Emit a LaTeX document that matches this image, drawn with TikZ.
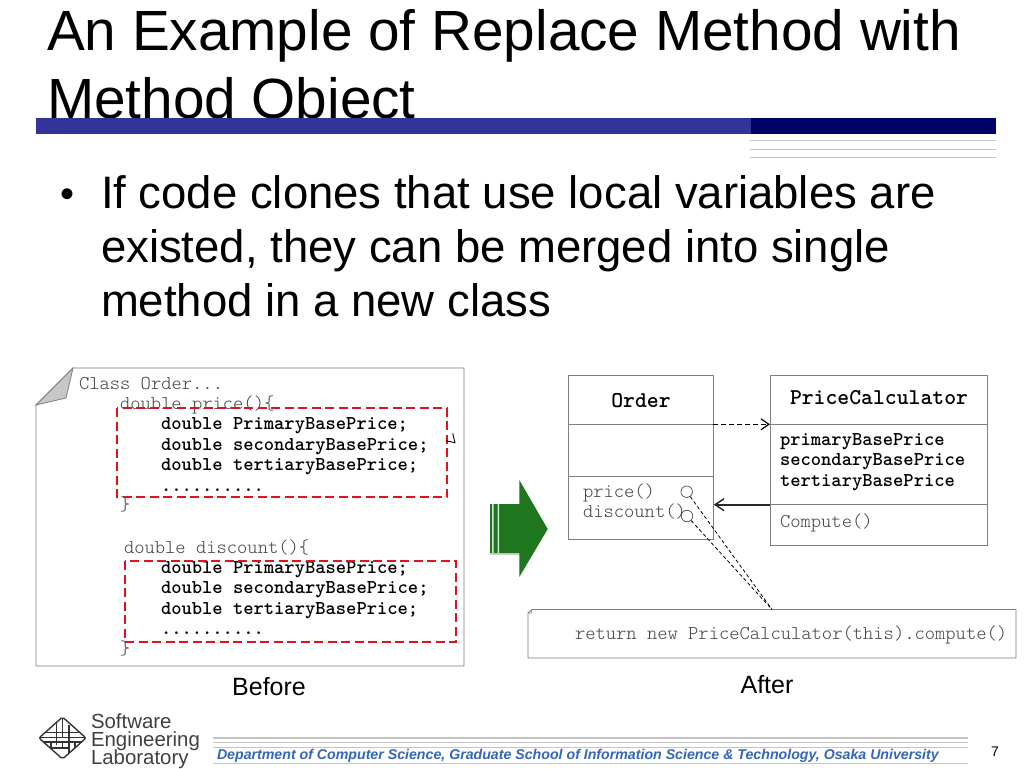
\documentclass[tikz,border=0pt]{standalone}
\usepackage{fontspec}
\setmainfont{Liberation Sans}
\setmonofont{Latin Modern Mono Light}
\usetikzlibrary{arrows.meta}
\definecolor{barblue}{HTML}{333399}
\definecolor{bardark}{HTML}{000066}
\definecolor{rulegray}{HTML}{C4C4C4}
\definecolor{codegray}{HTML}{444444}
\definecolor{boxgray}{HTML}{7F7F7F}
\definecolor{foot}{HTML}{3366BB}
\definecolor{arrowgreen}{HTML}{1E761E}
\definecolor{reddash}{HTML}{E4101C}
\tikzset{
 lbl/.style={anchor=base west,inner sep=0pt,outer sep=0pt},
 titletext/.style={lbl,font=\fontsize{56.7}{70}\selectfont},
 bodytext/.style={lbl,font=\fontsize{45.5}{54}\selectfont},
 code/.style={lbl,font=\fontsize{19.6}{22}\ttfamily,text=codegray},
 bcode/.style={lbl,font=\fontsize{19.6}{22}\ttfamily\bfseries,text=black},
 hcode/.style={lbl,font=\fontsize{22.6}{24}\ttfamily\bfseries,text=black},
 caption/.style={anchor=base,inner sep=0pt,font=\fontsize{25}{30}\selectfont},
 umlbox/.style={draw=boxgray,line width=0.9pt,fill=white},
 redbox/.style={draw=reddash,line width=2.2pt,dash pattern=on 9pt off 4.5pt},
 notedash/.style={black,line width=0.8pt,dash pattern=on 3.5pt off 2.5pt},
 logotext/.style={lbl,font=\fontsize{20.4}{24}\selectfont,text=black!75},
 opening/.style={circle,draw=black!70,line width=0.7pt,minimum size=11.5pt,inner sep=0pt},
}
\begin{document}
\begin{tikzpicture}[x=1pt,y=-1pt]
\useasboundingbox (0,0) rectangle (1024,768);
\fill[white] (0,0) rectangle (1024,768);
% title
\node[titletext] (t1) at (47,50) {An Example of Replace Method with};
\node[titletext] (t2) at (47,118) {Method Object};
\fill[barblue] (36,118) rectangle (751,134);
\fill[bardark] (751,118) rectangle (996,134);
\foreach \yy in {140.5,149,157} \draw[rulegray,line width=1pt] (750,\yy) -- (996,\yy);
% body
\node[lbl,font=\fontsize{40}{54}\selectfont] (bu) at (60,207) {•};
\node[bodytext] (b1) at (101,208) {If code clones that use local variables are};
\node[bodytext] (b2) at (101,262) {existed, they can be merged into single};
\node[bodytext] (b3) at (101,316) {method in a new class};
% before page
\draw[umlbox] (73,368) -- (464,368) -- (464,666) -- (36,666) -- (36,405) -- cycle;
\filldraw[draw=boxgray,fill=black!22,line width=0.8pt] (73,368) -- (66,398) -- (36,405) -- cycle;
\node[code] (c1) at (79,389) {Class Order...};
\node[code] (c2) at (120,409) {double price()\{};
\node[bcode] (c3) at (161,429.5) {double PrimaryBasePrice;};
\node[bcode] (c4) at (161,450) {double secondaryBasePrice;};
\node[bcode] (c5) at (161,470.5) {double tertiaryBasePrice;};
\node[bcode] (c6) at (161,491) {..........};
\node[code] (c7) at (120,510) {\}};
\node[code] (d2) at (124,553) {double discount()\{};
\node[bcode] (d3) at (161,573) {double PrimaryBasePrice;};
\node[bcode] (d4) at (161,593.5) {double secondaryBasePrice;};
\node[bcode] (d5) at (161,614) {double tertiaryBasePrice;};
\node[bcode] (d6) at (161,634.5) {..........};
\node[code] (d7) at (120,654) {\}};
\draw[redbox] (117,408) rectangle (447,497);
\draw[redbox] (125,561) rectangle (456,642);
\draw[black,line width=0.9pt] (452.7,433.3) -- (455,442.7) -- (445.7,440.7);
\node[caption] (before) at (269,695) {Before};
\node[caption] (after) at (767,693) {After};
% green arrow
\fill[black!18] (490,506) rectangle (520,555);
\fill[arrowgreen] (490,504) -- (519.3,504) -- (519.3,480) -- (547.7,529) -- (519.3,577) -- (519.3,553) -- (490,553) -- cycle;
\fill[white!80!arrowgreen] (492,504) rectangle (493.7,553) (497.7,504) rectangle (499,553);
% Order
\draw[umlbox] (568.3,375.7) rectangle (713.3,539.3);
\coordinate (od1a) at (568.3,424.3); \coordinate (od1b) at (713.3,424.3);
\coordinate (od2a) at (568.3,476.3); \coordinate (od2b) at (713.3,476.3);
\draw[boxgray,line width=0.9pt] (od1a) -- (od1b) (od2a) -- (od2b);
\node[hcode,anchor=base] (order) at (641,407) {Order};
\node[code] (m1) at (583,497) {price()};
\node[code] (m2) at (583,517.5) {discount()};
% PriceCalculator
\draw[umlbox] (770,375.7) rectangle (987.7,545.3);
\coordinate (pd1a) at (770,424.3); \coordinate (pd1b) at (987.7,424.3);
\coordinate (pd2a) at (770,504.7); \coordinate (pd2b) at (987.7,504.7);
\draw[boxgray,line width=0.9pt] (pd1a) -- (pd1b) (pd2a) -- (pd2b);
\node[hcode] (pc) at (790,404) {PriceCalculator};
\node[bcode] (a1) at (780,445) {primaryBasePrice};
\node[bcode] (a2) at (780,465.5) {secondaryBasePrice};
\node[bcode] (a3) at (780,486) {tertiaryBasePrice};
\node[code] (comp) at (780,527) {Compute()};
% note
\draw[umlbox] (528,613) -- (532,609.5) -- (1016,609.5) -- (1016,658) -- (528,658) -- cycle;
\draw[boxgray,line width=0.6pt] (532,609.5) -- (531.5,613) -- (528,613);
\node[code] (ret) at (575,639) {return new PriceCalculator(this).compute()};
% connectors
\coordinate (noteTip) at (772,609.5);
\draw[black,line width=1.3pt,dash pattern=on 5pt off 3pt,-{Straight Barb[length=8pt,width=11pt,line width=1.2pt]}] (od1b) -- (pd1a);
\draw[black!85,line width=1.8pt,-{Straight Barb[length=9pt,width=12pt,line width=1.4pt]}] (pd2a) -- (713.8,504.7);
\node[opening] (c1o) at (686.7,491.7) {};
\node[opening] (c2o) at (687,516) {};
\draw[notedash] (c1o) -- (noteTip);
\draw[notedash] (c2o) -- (noteTip);
% footer
\draw[rulegray,line width=2pt] (213,738.3) -- (968,738.3);
\foreach \yy in {742.6,747.7} \draw[rulegray,line width=1pt] (213,\yy) -- (968,\yy);
\draw[rulegray,line width=1.5pt] (213,763.3) -- (968,763.3);
\node[lbl,font=\fontsize{14.17}{16}\selectfont\bfseries\itshape,text=foot] (foot) at (217,759) {Department of Computer Science, Graduate School of Information Science \& Technology, Osaka University};
\node[lbl,font=\fontsize{14}{16}\selectfont] (pg) at (991,756) {7};
% logo
\begin{scope}
\clip[rounded corners=2pt] (39,738) -- (62.5,717) -- (86,738) -- (62.5,759) -- cycle;
\draw[black!80,line width=1.2pt]
 (39,732.5) -- (86,732.5) (39,737.5) -- (86,737.5) (39,742) -- (86,742)
 (56.5,716) -- (56.5,745) (62.5,716) -- (62.5,738) (69,725) -- (69,760)
 (51,742) -- (51,752) (51,748) -- (69,748) (75,742) -- (75,755) (62.5,742) -- (62.5,748);
\end{scope}
\draw[black!80,line width=1.4pt,rounded corners=2pt] (39,738) -- (62.5,717) -- (86,738) -- (62.5,759) -- cycle;
\node[logotext] (l1) at (91,728) {Software};
\node[logotext] (l2) at (91,746.5) {Engineering};
\node[logotext] (l3) at (91,764) {Laboratory};
\end{tikzpicture}
\end{document}
